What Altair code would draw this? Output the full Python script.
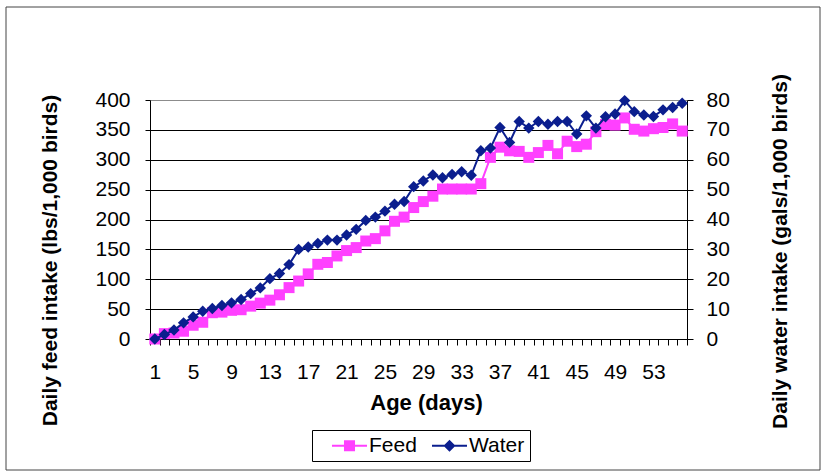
import altair as alt
import pandas as pd

days = list(range(1, 57))
feed = [0, 9, 10, 13, 23, 28, 44, 45, 48, 49, 55, 60, 65, 74, 86, 97, 109, 125, 128, 139,
        148, 153, 164, 168, 181, 197, 204, 220, 230, 239, 251, 251, 251, 251, 260, 304, 321, 315, 314, 304,
        312, 324, 310, 331, 322, 326, 347, 359, 358, 370, 351, 348, 352, 354, 360, 348]
water = [0, 1.5, 3, 5.4, 7.4, 9.3, 10.2, 11.2, 12.1, 13.2, 15.2, 17.1, 20.2, 21.9, 24.9, 30, 30.8, 32, 33.1, 33.1,
         34.8, 36.7, 39.7, 40.8, 42.8, 45.1, 46, 51, 52.9, 54.9, 54, 55.1, 56, 54.8, 63, 63.9, 70.8, 65.8, 72.8, 70.6,
         72.8, 71.9, 72.8, 72.8, 68.6, 74.7, 70.6, 74.4, 75.3, 79.8, 76.1, 75, 74.5, 76.7, 77.5, 78.9]
series = ["Feed", "Water"]
feed_ticks = list(range(0, 401, 50))
water_ticks = list(range(0, 81, 10))

PINK = "#FF40FF"
NAVY = "#0B1E8E"
FONT = "Liberation Sans"

df = pd.DataFrame({"day": days, "feed": feed, "water": water})

x_enc = alt.X(
    "day:O",
    bandPosition=0.5,
    scale=alt.Scale(type="band", paddingInner=0, paddingOuter=0),
    axis=alt.Axis(
        title="Age (days)", tickBand="extent", labelAngle=0, labelOverlap=False,
        labelExpr="(datum.value - 1) % 4 == 0 ? datum.label : ''",
        tickSize=6, labelPadding=16, domainColor="black", tickColor="black",
        labelColor="black", labelFont=FONT, labelFontSize=21,
        titleFont=FONT, titleFontSize=22, titleFontWeight="bold", titleColor="black",
        titleX=276, titleY=63, titleBaseline="middle", titleAlign="center", grid=False,
    ),
)

base = alt.Chart(df)

feed_layer = base.mark_line(
    color=PINK, strokeWidth=2,
    point=alt.OverlayMarkDef(filled=True, shape="square", size=121, color=PINK, opacity=1),
).encode(
    x=x_enc,
    y=alt.Y(
        "feed:Q",
        scale=alt.Scale(domain=[0, 400], nice=False),
        axis=alt.Axis(
            title="Daily feed intake (lbs/1,000 birds)", values=feed_ticks, grid=True,
            gridColor={"condition": {"test": "datum.value == 400", "value": "#8c8c8c"}, "value": "#000000"},
            gridWidth=1, tickSize=5, labelPadding=15, domainColor="black", tickColor="black",
            labelColor="black", labelFont=FONT, labelFontSize=21,
            titleFont=FONT, titleFontSize=21, titleFontWeight="bold", titleColor="black",
            titleAngle=270, titleX=-100, titleY=160, titleBaseline="middle", titleAlign="center",
        ),
    ),
)

water_layer = base.mark_line(
    color=NAVY, strokeWidth=2,
    point=alt.OverlayMarkDef(filled=True, shape="diamond", size=130, color=NAVY, opacity=1),
).encode(
    x=x_enc,
    y=alt.Y(
        "water:Q",
        scale=alt.Scale(domain=[0, 80], nice=False),
        axis=alt.Axis(
            title="Daily water intake (gals/1,000 birds)", values=water_ticks, orient="right", grid=False,
            tickSize=6, labelPadding=13, domainColor="black", tickColor="black",
            labelColor="black", labelFont=FONT, labelFontSize=21,
            titleFont=FONT, titleFontSize=21, titleFontWeight="bold", titleColor="black",
            titleAngle=270, titleX=93, titleY=151, titleBaseline="middle", titleAlign="center",
        ),
    ),
)

frame = alt.Chart(pd.DataFrame({"a": [0]})).mark_rect(filled=False, stroke="#444444", strokeWidth=1).encode(
    x=alt.value(-144), x2=alt.value(670), y=alt.value(-93), y2=alt.value(370)
)

FEED_SYM = "M-2.92,-0.17H2.92V0.17H-2.92Z M-0.92,-0.92H0.92V0.92H-0.92Z"
WATER_SYM = "M-2.92,-0.17H2.92V0.17H-2.92Z M0,-1L1,0L0,1L-1,0Z"

legend_def = dict(
    title=None, orient="none", legendX=162, legendY=330, direction="horizontal",
    padding=5, strokeColor="black", fillColor="white",
    symbolSize=144, symbolOffset=22, labelOffset=9,
    labelFont=FONT, labelFontSize=21, labelColor="black", columnPadding=-3,
)

legend_layer = alt.Chart(pd.DataFrame({"series": series})).mark_point(filled=True, opacity=1).encode(
    x=alt.value(-2000), y=alt.value(-2000),
    color=alt.Color("series:N", scale=alt.Scale(domain=series, range=[PINK, NAVY]),
                    legend=alt.Legend(**legend_def)),
    shape=alt.Shape("series:N", scale=alt.Scale(domain=series, range=[FEED_SYM, WATER_SYM]),
                    legend=alt.Legend(**legend_def)),
)

chart = alt.layer(frame, feed_layer, water_layer, legend_layer).resolve_scale(
    y="independent"
).properties(
    width=537, height=239,
    autosize=alt.AutoSizeParams(type="none"),
    padding={"left": 150, "top": 100, "right": 139, "bottom": 135},
    background="white",
).configure_view(strokeWidth=0)

chart.save("out.html", embed_options={"renderer": "svg", "actions": False})
